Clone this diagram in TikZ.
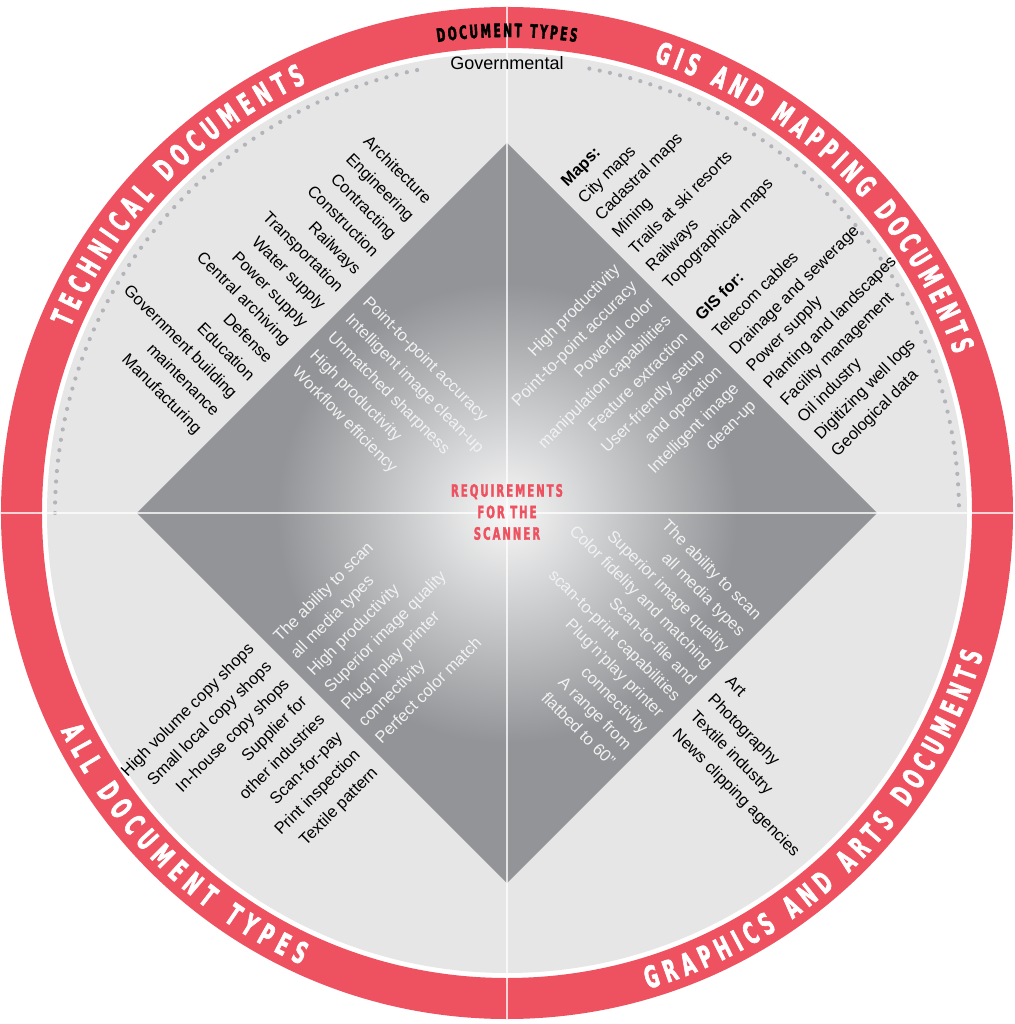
\documentclass[tikz,border=0pt]{standalone}
\usepackage{fontspec}
\setmainfont{Liberation Sans}
\newfontfamily\ringfont{DejaVu Sans Condensed}[FakeStretch=0.64,FakeBold=2]
\newfontfamily\capsfont{DejaVu Sans Condensed}[FakeStretch=0.66,FakeBold=2,LetterSpace=12]
\usetikzlibrary{decorations.text}

\definecolor{ringred}{RGB}{238,82,96}
\definecolor{disc}{RGB}{230,230,231}
\definecolor{diamondgray}{RGB}{146,148,151}
\definecolor{dotgray}{RGB}{178,180,185}
\definecolor{softwhite}{RGB}{242,242,242}

\tikzset{
  darktext/.style={font=\fontsize{16.5}{25}\selectfont, inner sep=0pt, text=black},
  lighttext/.style={font=\fontsize{16.5}{24}\selectfont, inner sep=0pt, text=softwhite},
  ringlabel/.style={decoration={text along path, text align={fit to path}, text color=white,
      text={|\fontsize{30}{30}\ringfont\bfseries|#1}}, postaction={decorate}},
  toplabel/.style={decoration={text along path, text align={fit to path}, text color=black,
      text={|\fontsize{18.5}{20}\ringfont\bfseries|#1}}, postaction={decorate}},
  dots/.style={dotgray, line width=4.2, line cap=round, dash pattern=on 0pt off 10.5pt}
}

\begin{document}
\begin{tikzpicture}[x=1pt, y=1pt]
    \useasboundingbox (-507,-511) rectangle (507,513);
    \fill[white] (-507,-511) rectangle (507,513);

    % ring and disc
    \fill[ringred, even odd rule] (0,0) circle (506) (0,0) circle (465);
    \fill[disc] (0,0) circle (460);
    \draw[dots] (180:452) arc[start angle=180, end angle=100.5, radius=452];
    \draw[dots] (79.5:452) arc[start angle=79.5, end angle=0, radius=452];

    % diamond
    \coordinate (top) at (0,370);
    \coordinate (right) at (370,0);
    \coordinate (bottom) at (0,-370);
    \coordinate (left) at (-370,0);
    \fill[diamondgray] (top) -- (right) -- (bottom) -- (left) -- cycle;
    \begin{scope}
        \clip (top) -- (right) -- (bottom) -- (left) -- cycle;
        \shade[inner color=white!93!diamondgray, outer color=diamondgray] (0,0) circle (230);
    \end{scope}

    \draw[white, opacity=0.75, line width=1.5] (0,-506) -- (0,506);
    \draw[white, opacity=0.75, line width=1.5] (-506,0) -- (506,0);

    % ring labels
    \path[toplabel={DOCUMENT TYPES}] (98.4:476) arc[start angle=98.4, end angle=81.6, radius=476];
    \path[ringlabel={TECHNICAL DOCUMENTS}] (157:474.5) arc[start angle=157, end angle=115, radius=474.5];
    \path[ringlabel={GIS AND MAPPING DOCUMENTS}] (72:474.5) arc[start angle=72, end angle=19.5, radius=474.5];
    \path[ringlabel={ALL DOCUMENT TYPES}] (206:496.5) arc[start angle=206, end angle=245.5, radius=496.5];
    \path[ringlabel={GRAPHICS AND ARTS DOCUMENTS}] (286.5:496.5) arc[start angle=286.5, end angle=343.5, radius=496.5];

    \node[font=\fontsize{18}{20}\selectfont, anchor=base] (gov) at (0,443) {Governmental};
    \node[font=\fontsize{17}{21.5}\capsfont\bfseries, text=ringred, align=center] (scanner) at (0,1)
        {REQUIREMENTS\\FOR THE\\SCANNER};

    % technical documents
    \node[darktext, rotate=-45, anchor=north east, align=right] (technical) at (-73.3,316.7)
        {Architecture\\Engineering\\Contracting\\Construction\\Railways\\Transportation\\Water supply\\
         Power supply\\Central archiving\\Defense\\Education\\Government building\\maintenance\\Manufacturing};
    \node[lighttext, font=\fontsize{16.5}{25}\selectfont, rotate=-45, anchor=north west, align=left] (technicalneeds) at (-136.3,218.7)
        {Point-to-point accuracy\\Intelligent image clean-up\\Unmatched sharpness\\High productivity\\Workflow efficiency};

    % gis and mapping
    \node[darktext, font=\fontsize{16.5}{24}\selectfont, rotate=45, anchor=north west, align=left] (gis) at (52.3,333.7)
        {\textbf{Maps:}\\City maps\\Cadastral maps\\Mining\\Trails at ski resorts\\Railways\\Topographical maps\\[22pt]
         \textbf{GIS for:}\\Telecom cables\\Drainage and sewerage\\Power supply\\Planting and landscapes\\
         Facility management\\Oil industry\\Digitizing well logs\\Geological data};
    \node[lighttext, rotate=45, anchor=north east, align=right] (gisneeds) at (105.3,250.7)
        {High productivity\\Point-to-point accuracy\\Powerful color\\manipulation capabilities\\Feature extraction\\
         User-friendly setup\\and operation\\Intelligent image\\clean-up};

    % all document types
    \node[darktext, rotate=45, anchor=north east, align=right] (alltypes) at (-260.7,-128.3)
        {High volume copy shops\\Small local copy shops\\In-house copy shops\\Supplier for\\other industries\\
         Scan-for-pay\\Print inspection\\Textile pattern};
    \node[lighttext, rotate=45, anchor=north west, align=left] (alltypesneeds) at (-235.7,-121.3)
        {The ability to scan\\all media types\\High productivity\\Superior image quality\\Plug’n’play printer\\
         connectivity\\Perfect color match};

    % graphics and arts
    \node[darktext, rotate=-45, anchor=north west, align=left] (arts) at (225.7,-161.3)
        {Art\\Photography\\Textile industry\\News clipping agencies};
    \node[lighttext, font=\fontsize{16.5}{23}\selectfont, rotate=-45, anchor=north east, align=right] (artsneeds) at (256.7,-99.3)
        {The ability to scan\\all media types\\Superior image quality\\Color fidelity and matching\\Scan-to-file and\\
         scan-to-print capabilities\\Plug’n’play printer\\connectivity\\A range from\\flatbed to 60”};
\end{tikzpicture}
\end{document}
